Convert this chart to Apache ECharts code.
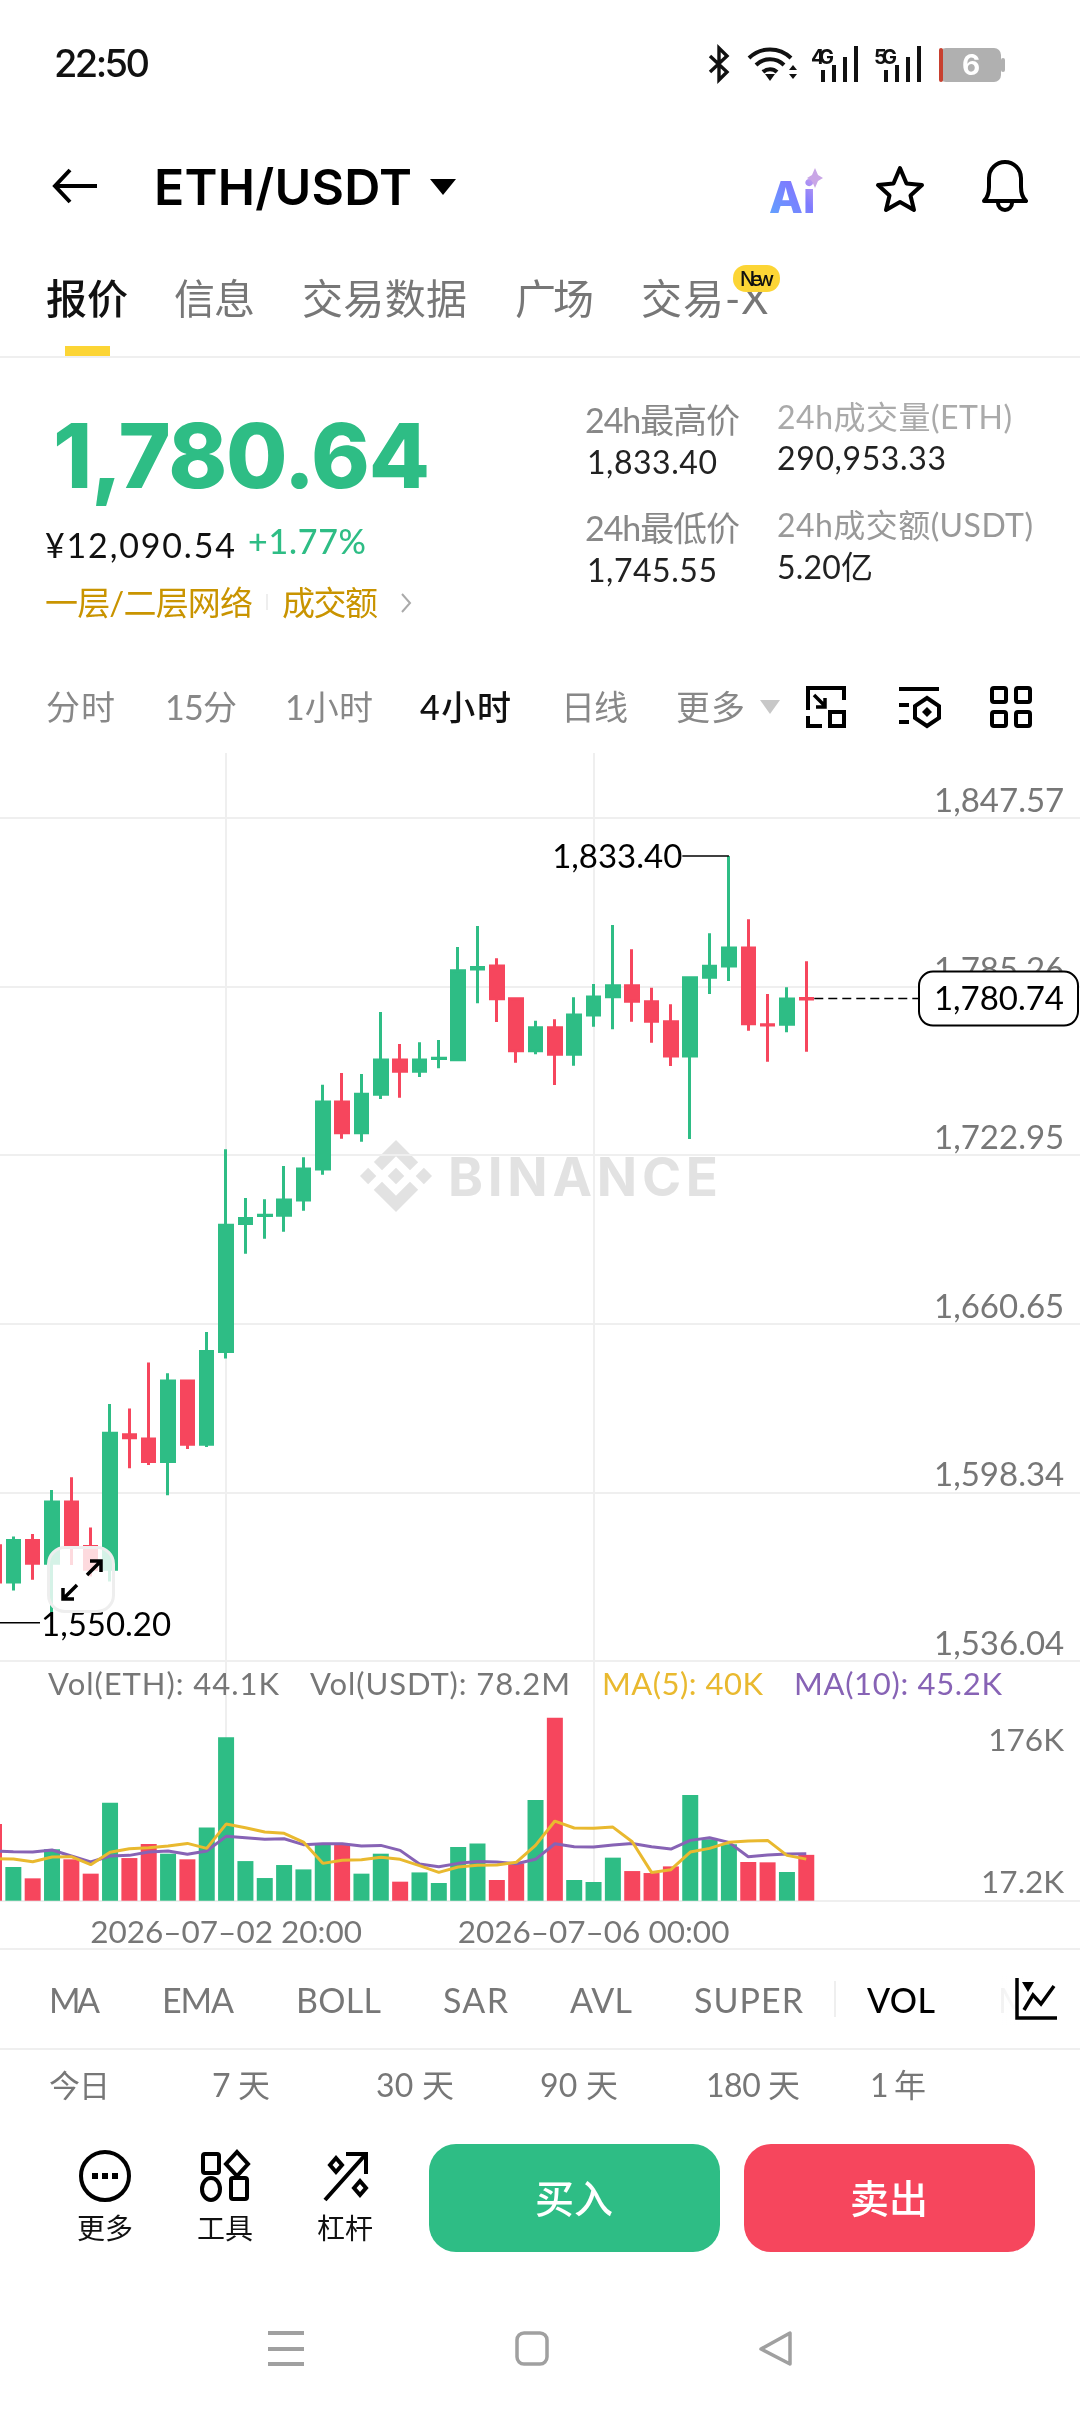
<!DOCTYPE html>
<html><head><meta charset="utf-8">
<script src="https://cdn.jsdelivr.net/npm/echarts@6/dist/echarts.min.js"></script>
<style>
html,body{margin:0;padding:0;background:#fff;width:1080px;height:2414px;overflow:hidden}
body{position:relative;font-family:Lato,"Noto Sans CJK SC",sans-serif}
#chart{position:absolute;left:-20px;top:0;width:1120px;height:2414px;z-index:1}
#chrome{position:absolute;left:0;top:0;width:1080px;height:2414px;z-index:2}
#wm{position:absolute;left:0;top:0;z-index:0}
.t{position:absolute;white-space:nowrap}
.r{position:absolute}
svg{position:absolute;overflow:visible}
</style></head><body>
<div id="wm"></div><div id="chart"></div><div id="chrome"></div>
<script>
// ---------- data ----------
const categories=["2026-06-30 20:00","2026-07-01 00:00","2026-07-01 04:00","2026-07-01 08:00","2026-07-01 12:00","2026-07-01 16:00","2026-07-01 20:00","2026-07-02 00:00","2026-07-02 04:00","2026-07-02 08:00","2026-07-02 12:00","2026-07-02 16:00","2026-07-02 20:00","2026-07-03 00:00","2026-07-03 04:00","2026-07-03 08:00","2026-07-03 12:00","2026-07-03 16:00","2026-07-03 20:00","2026-07-04 00:00","2026-07-04 04:00","2026-07-04 08:00","2026-07-04 12:00","2026-07-04 16:00","2026-07-04 20:00","2026-07-05 00:00","2026-07-05 04:00","2026-07-05 08:00","2026-07-05 12:00","2026-07-05 16:00","2026-07-05 20:00","2026-07-06 00:00","2026-07-06 04:00","2026-07-06 08:00","2026-07-06 12:00","2026-07-06 16:00","2026-07-06 20:00","2026-07-07 00:00","2026-07-07 04:00","2026-07-07 08:00","2026-07-07 12:00","2026-07-07 16:00","2026-07-07 20:00"];
const candleOpen=[1578.57,1565.27,1580.52,1572.17,1594.82,1578.31,1569.96,1619.6,1618.09,1609.70,1639.51,1616.13,1650.33,1697.7,1700.65,1700.71,1706.36,1717.81,1742.56,1731.22,1745.40,1758.07,1753.90,1758.65,1758.18,1791.7,1792.79,1780.72,1761.51,1770.00,1760.18,1774.70,1781.45,1785.52,1779.61,1772.22,1759.55,1788.62,1792.79,1799.44,1771.05,1771.26,1780.74];
const candleClose=[1565.27,1580.52,1572.17,1594.82,1578.82,1569.96,1620.19,1618.5,1609.70,1639.51,1616.13,1650.33,1697.02,1699.5,1700.75,1706.36,1717.81,1742.56,1731.22,1745.40,1758.07,1753.90,1758.07,1758.75,1791.06,1792.2,1780.72,1761.51,1770.00,1760.18,1774.70,1781.34,1785.52,1779.76,1772.37,1759.55,1788.47,1792.68,1799.44,1771.48,1770.95,1780.61,1780.60];
const candleLow=[1550.20,1562.06,1566.01,1553.08,1571.55,1567.23,1565.38,1607.26,1608.48,1597.29,1614.39,1615.13,1647.75,1686.53,1692.07,1694.65,1702.41,1715.71,1729.01,1727.90,1743.67,1744.15,1751.79,1755.01,1758.18,1779.02,1772.11,1757.08,1760.18,1748.84,1755.97,1770.37,1769.41,1772.22,1764.46,1755.86,1728.89,1782.45,1787.25,1768.90,1757.45,1768.31,1761.14];
const candleHigh=[1582.64,1582.00,1583.00,1599.25,1603.94,1585.32,1631.02,1629.28,1646.27,1642.35,1639.88,1657.61,1725.09,1707.10,1706.62,1718.92,1722.13,1748.95,1753.27,1752.90,1775.80,1763.98,1764.61,1765.46,1799.81,1807.57,1795.64,1780.72,1772.59,1773.11,1781.23,1786.15,1807.94,1798.96,1784.78,1778.65,1788.84,1804.87,1833.40,1810.04,1782.45,1784.93,1794.53];
const volumes=[73.7,32.4,21.5,49.4,39.8,26.0,94.2,41.0,54.5,45.2,39.8,70.5,157.1,38.1,21.8,34.3,30.1,53.5,53.5,26.0,45.2,18.3,27.2,17.0,51.6,55.1,19.9,35.9,96.8,176.0,19.9,18.0,41.4,28.5,26.6,33.0,101.6,59.0,54.2,37.2,36.9,27.6,44.1];
const ma5=[40.4,40.1,37.5,42.0,42.3,34.6,46.5,50.0,51.0,52.6,55.1,50.3,73.7,70.2,66.0,64.8,56.4,35.9,38.8,39.4,41.7,39.8,33.7,27.2,32.4,34.0,34.3,36.9,53.2,76.6,69.9,69.6,70.8,56.7,27.2,29.8,46.8,50.3,56.1,57.4,58.0,43.6,40.0];
const ma10=[47.8,47.1,46.8,48.7,43.0,37.2,43.0,43.6,46.8,47.8,44.6,47.8,61.9,60.6,59.0,59.6,53.9,54.8,54.8,52.6,53.2,48.4,35.3,32.7,35.9,37.8,37.2,35.6,39.8,54.8,51.9,51.6,53.5,55.1,51.9,49.7,58.0,60.6,56.1,42.3,43.9,44.9,45.2];
const priceTicks=[1536.04,1598.34,1660.65,1722.95,1785.26,1847.57];
const volumeTicks=[17.2];
const volumeTopLabel=176;
const timeLabels=["2026-07-02 20:00","2026-07-06 00:00"];
const highPrice=1833.40, lowPrice=1550.20, lastPrice=1780.74;
// ---------- style ----------
const GREEN='#2EBD85',RED='#F6465D',GRID='#EFEFEF',AXIS='#777777';
const FONT='Lato',FS=31.5,FS_PRICE=33;
const OFFSET=20; // the canvas starts left of the window so the first candle can be cut off
const SLOTS=57; // blank slots keep the right-hand part of the time axis empty
const axisCats=categories.concat(new Array(SLOTS-categories.length).fill(''));
const grid=[{left:4.33,width:1102.38,top:753,height:908},{left:4.33,width:1102.38,top:1661,height:239.7}];
const keepTime=(i,v)=>timeLabels.includes(v);
const chart=echarts.init(document.getElementById('chart'),null,{renderer:'canvas'});
chart.setOption({
 animation:false,backgroundColor:'transparent',grid,
 xAxis:[
  {type:'category',gridIndex:0,data:axisCats,boundaryGap:true,axisLine:{show:false},axisTick:{show:false,alignWithLabel:true},axisLabel:{show:false},
   splitLine:{show:true,alignWithLabel:true,interval:keepTime,lineStyle:{color:GRID,width:2}}},
  {type:'category',gridIndex:1,data:axisCats,boundaryGap:true,axisLine:{show:true,lineStyle:{color:GRID,width:2}},axisTick:{show:false,alignWithLabel:true},
   axisLabel:{show:true,interval:keepTime,margin:16,color:AXIS,fontFamily:FONT,fontSize:FS,formatter:v=>v.replace(/-/g,'\u2013')},
   splitLine:{show:true,alignWithLabel:true,interval:keepTime,lineStyle:{color:GRID,width:2}}}
 ],
 yAxis:[
  {type:'value',gridIndex:0,position:'right',min:1536.04,max:1871.47,scale:true,axisLine:{show:false},
   axisTick:{show:false,customValues:priceTicks},
   axisLabel:{inside:true,margin:22.5,color:AXIS,fontFamily:FONT,fontSize:FS_PRICE,verticalAlign:'bottom',customValues:priceTicks,
     formatter:v=>v.toLocaleString('en-US',{minimumFractionDigits:2,maximumFractionDigits:2})},
   splitLine:{show:true,lineStyle:{color:GRID,width:2}}},
  {type:'value',gridIndex:1,position:'right',min:0,max:230.5,axisLine:{show:false},
   axisTick:{show:false,customValues:volumeTicks},
   axisLabel:{inside:true,margin:22.5,color:AXIS,fontFamily:FONT,fontSize:FS,customValues:volumeTicks,formatter:v=>v+'K'},
   splitLine:{show:false}}
 ],
 series:[
  {type:'candlestick',name:'ETH/USDT',xAxisIndex:0,yAxisIndex:0,barWidth:13,z:3,
   data:categories.map((c,i)=>[candleOpen[i],candleClose[i],candleLow[i],candleHigh[i]]),
   itemStyle:{color:GREEN,color0:RED,borderColor:GREEN,borderColor0:RED,borderWidth:3}},
  {type:'bar',name:'Vol(ETH)',xAxisIndex:1,yAxisIndex:1,barWidth:16,z:2,
   data:volumes.map((v,i)=>({value:v,itemStyle:{color:candleClose[i]>=candleOpen[i]?GREEN:RED}}))},
  {type:'line',name:'MA(5)',xAxisIndex:1,yAxisIndex:1,data:ma5,symbol:'none',z:5,lineStyle:{color:'#E9B92F',width:3}},
  {type:'line',name:'MA(10)',xAxisIndex:1,yAxisIndex:1,data:ma10,symbol:'none',z:4,lineStyle:{color:'#8763B5',width:3}}
 ]
});
const px=i=>chart.convertToPixel({xAxisIndex:0},i);
const py=v=>chart.convertToPixel({yAxisIndex:0},v);
const vy=v=>chart.convertToPixel({yAxisIndex:1},v);
const hi=candleHigh.indexOf(highPrice),lo=candleLow.indexOf(lowPrice),last=categories.length-1;
const lineG=(x1,y1,x2,y2,extra)=>({type:'line',z:20,shape:{x1,y1,x2,y2},style:Object.assign({stroke:'#000',lineWidth:1.5},extra||{})});
const textG=(text,x,y,align,color,size)=>({type:'text',z:22,x,y,style:{text,align,verticalAlign:'middle',fill:color,fontFamily:FONT,fontSize:size||FS_PRICE}});
const fmt=v=>v.toLocaleString('en-US',{minimumFractionDigits:2,maximumFractionDigits:2});
const tagX=919+OFFSET,labelX=1064+OFFSET;
chart.setOption({graphic:[
 lineG(px(hi),py(highPrice),px(hi)-46.6,py(highPrice)),
 textG(fmt(highPrice),px(hi)-46.6,py(highPrice)+1,'right','#000'),
 lineG(px(lo),py(lowPrice),px(lo)+46,py(lowPrice)),
 textG(fmt(lowPrice),px(lo)+47,py(lowPrice)+3,'left','#000'),
 lineG(px(last)+8,py(lastPrice),tagX,py(lastPrice),{lineDash:[9,5]}),
 {type:'rect',z:21,shape:{x:tagX,y:py(lastPrice)-27,width:159,height:54,r:14},style:{fill:'#fff',stroke:'#000',lineWidth:2}},
 textG(fmt(lastPrice),labelX,py(lastPrice)+1,'right','#000'),
 textG(volumeTopLabel+'K',labelX,vy(volumeTopLabel)+23,'right',AXIS,FS)
]});
// ---------- watermark ----------
document.getElementById('wm').innerHTML=
 '<svg style="left:360px;top:1140px" width="72" height="72" viewBox="0 0 126.61 126.61"><path fill="#E2E2E2" d="M38.73 53.2l24.59-24.58 24.6 24.6 14.3-14.31L63.32 0 24.42 38.9zM0 63.31l14.3-14.31 14.31 14.31L14.3 77.61zM38.73 73.41l24.59 24.59 24.6-24.6 14.31 14.29-38.9 38.91-38.91-38.88-.02-.02zM98 63.31l14.3-14.31 14.31 14.3-14.31 14.32zM77.83 63.3L63.32 48.78 52.59 59.51l-1.24 1.23-2.54 2.54 14.51 14.5 14.51-14.47z"/></svg>';
// ---------- app chrome ----------
const host=document.getElementById('chrome'),wmHost=document.getElementById('wm');
function T(text,x0,x1,yc,size,color,weight,parent,family){
 const s=document.createElement('span');s.className='t';s.textContent=text;
 s.style.cssText=`left:${x0}px;top:${yc-size/2}px;font-size:${size}px;line-height:${size}px;color:${color};font-weight:${weight||400}`;
 if(family)s.style.fontFamily=family;
 (parent||host).appendChild(s);
 if(x1){const w=s.getBoundingClientRect().width;const n=text.length;s.style.letterSpacing=((x1-x0-w)/(n-1))+'px';}
 return s;
}
function R(x,y,w,h,bg,rad){const d=document.createElement('div');d.className='r';d.style.cssText=`left:${x}px;top:${y}px;width:${w}px;height:${h}px;background:${bg};border-radius:${rad||0}px`;host.appendChild(d);return d;}
function S(x,y,w,h,vb,inner){host.insertAdjacentHTML('beforeend',`<svg style="left:${x}px;top:${y}px" width="${w}" height="${h}" viewBox="${vb}">${inner}</svg>`);}
const INTER='Inter,"Noto Sans CJK SC"';
T('BINANCE',448,718,1177,53,'#E2E2E2',700,wmHost,INTER);
// status bar
T('22:50',54,150,63,38,'#111',500,null,INTER);
S(707,46,24,36,'0 0 24 36','<path d="M3 10l17 16-8 8V2l8 8L3 26" fill="none" stroke="#111" stroke-width="3.4"/>');
S(747,46,50,36,'0 0 50 36','<path d="M2 12a30 30 0 0 1 42 0M9 19a20 20 0 0 1 28 0M16 26a10 10 0 0 1 14 0" fill="none" stroke="#111" stroke-width="4"/><path d="M18 28h10l-5 7z" fill="#111"/><path d="M42 24l4-5 4 5zM42 28l4 5 4-5z" fill="#111"/>');
const sig=(x,lab)=>{T(lab,x,x+23,57,20,'#111',700,null,INTER);S(x+10,46,38,36,'0 0 38 36','<rect x="0" y="24" width="4" height="12" fill="#111"/><rect x="11" y="19" width="4" height="17" fill="#111"/><rect x="22" y="11" width="4" height="25" fill="#111"/><rect x="33" y="0" width="4" height="36" fill="#111"/>');};
sig(811,'4G');sig(874,'5G');
R(939,48,62,34,'#B0B0B0',7);R(939,48,4,34,'#C8402F',2);R(1001,58,4,14,'#B0B0B0',2);
T('6',962,null,65,28,'#fff',700,null,INTER);
// title bar
S(52,168,46,36,'0 0 46 36','<path d="M18 2L3 18l15 16M3 18h42" fill="none" stroke="#000" stroke-width="4"/>');
T('ETH/USDT',154,412,187,50,'#000',600,null,INTER);
S(430,179,26,16,'0 0 26 16','<path d="M0 0h26L13 16z" fill="#000"/>');
S(768,168,56,46,'0 0 56 46','<defs><linearGradient id="ai" x1="0" x2="1" y1="1" y2="0"><stop offset="0" stop-color="#5CA8FF"/><stop offset=".6" stop-color="#7E7BFF"/><stop offset="1" stop-color="#D9A6E8"/></linearGradient></defs><text x="1" y="45" font-family="Inter" font-weight="800" font-size="44" fill="url(#ai)">Ai</text><path d="M47 0l3 7 5 3-5 3-3 7-3-7-5-3 5-3z" fill="#C9A6E6"/>');
S(875,165,50,47,'0 0 50 47','<path d="M25 3l6.5 15.5L47 20 35.5 30.5 39 45 25 37 11 45l3.500-14.500L3 20l15.500-1.500z" fill="none" stroke="#000" stroke-width="4" stroke-linejoin="round"/>');
S(981,160,48,53,'0 0 48 53','<path d="M3 41c4-4 5-8 5-14V18a16 16 0 0 1 32 0v9c0 6 1 10 5 14z" fill="none" stroke="#000" stroke-width="4" stroke-linejoin="round"/><path d="M17 43a7 7 0 0 0 14 0" fill="none" stroke="#000" stroke-width="4"/>');
// tabs
T('报价',46,128,298,41,'#111',500);
T('信息',174,255,298,41,'#777');
T('交易数据',302,467,298,41,'#777');
T('广场',515,594,298,41,'#777');
T('交易-X',641,768,298,41,'#777');
R(733,265,47,27,'#FCD535',13);
T('New',740,774,279,20,'#111',500,null,INTER);
R(65,346,45,10,'#FCD535');
R(0,356,1080,2,'#EFEFEF');
// price block
T('1,780.64',53,430,455,89,GREEN,800,null,INTER);
T('¥12,090.54',45,235,545,34,'#111');
T('+1.77%',248,366,541,34,GREEN,500);
T('一层/二层网络',45,253,602,33,'#C99400');
R(266,594,2,16,'#EEE');
T('成交额',282,378,602,33,'#C99400');
S(400,592,12,22,'0 0 12 22','<path d="M2 2l8 9-8 9" fill="none" stroke="#AAA" stroke-width="2"/>');
T('24h最高价',585,740,420,34,'#888');
T('1,833.40',587,717,462,32,'#222');
T('24h成交量(ETH)',777,1012,417,32,'#AAA');
T('290,953.33',777,946,458,32,'#222');
T('24h最低价',585,740,528,34,'#888');
T('1,745.55',587,717,570,32,'#222');
T('24h成交额(USDT)',777,1033,525,32,'#999');
T('5.20亿',777,873,567,32,'#222');
// intervals
T('分时',46,115,707,34,'#888');
T('15分',165,237,707,34,'#888');
T('1小时',285,373,707,34,'#888');
T('4小时',420,511,707,34,'#111',500);
T('日线',561,628,707,34,'#888');
T('更多',676,745,707,34,'#888');
S(760,700,20,14,'0 0 20 14','<path d="M0 0h20L10 14z" fill="#C8C8C8"/>');
S(806,686,40,42,'0 0 40 42','<path d="M2 24V2h36v12M2 30v10h14M24 26h14v14H24z" fill="none" stroke="#000" stroke-width="4"/><path d="M8 9l11 11M19 12v9h-9" fill="none" stroke="#000" stroke-width="3.500"/>');
S(897,686,44,42,'0 0 44 42','<path d="M2 3h40M2 19h10M2 36h10" fill="none" stroke="#000" stroke-width="4"/><path d="M30 12l12 8v12l-12 8-12-8V20z" fill="none" stroke="#000" stroke-width="4"/><path d="M30 21l5 5-5 5-5-5z" fill="#000"/>');
S(990,686,42,42,'0 0 42 42','<g fill="none" stroke="#000" stroke-width="4"><rect x="2" y="2" width="14" height="14" rx="2"/><rect x="26" y="2" width="14" height="14" rx="2"/><rect x="2" y="26" width="14" height="14" rx="2"/><rect x="26" y="26" width="14" height="14" rx="2"/></g>');
// volume legend
T('Vol(ETH): 44.1K',48,279,1683,31,'#777');
T('Vol(USDT): 78.2M',310,570,1683,31,'#777');
T('MA(5): 40K',602,763,1683,31,'#E9B92F');
T('MA(10): 45.2K',794,1002,1683,31,'#8763B5');
// expand button over the chart
const ex=R(47,1546,68,67,'rgba(255,255,255,.80)',18);ex.style.border='3px solid #EEE';ex.style.boxSizing='border-box';
S(60,1558,44,44,'0 0 44 44','<path d="M3 41l14-14M3 30v11h11M41 3L27 17M30 3h11v11" fill="none" stroke="#000" stroke-width="3.500"/>');
// indicators
R(0,1948,1080,2,'#EFEFEF');
T('MA',49,100,2000,34,'#777');
T('EMA',162,234,2000,34,'#777');
T('BOLL',296,381,2000,34,'#777');
T('SAR',443,508,2000,34,'#777');
T('AVL',570,632,2000,34,'#777');
T('SUPER',694,803,2000,34,'#777');
R(834,1981,2,36,'#EFEFEF');
T('VOL',867,935,2000,34,'#000',500);
T('M',998,null,2000,34,'#DDD');
R(1000,1975,80,50,'linear-gradient(90deg,rgba(255,255,255,.6),#fff 30%)');
S(1015,1978,42,42,'0 0 42 42','<path d="M2 0v40h40" fill="none" stroke="#000" stroke-width="3.500"/><path d="M9 32l9-15 8 9 13-18" fill="none" stroke="#000" stroke-width="3.500"/><path d="M7 4h12l-6 10z" fill="#000"/>');
R(0,2048,1080,2,'#EFEFEF');
// ranges
T('今日',49,110,2085,31,'#777');
T('7 天',212,270,2085,32,'#777');
T('30 天',376,454,2085,32,'#777');
T('90 天',540,618,2085,32,'#777');
T('180 天',706,800,2085,32,'#777');
T('1 年',870,926,2085,32,'#777');
// bottom actions
S(79,2150,52,52,'0 0 52 52','<circle cx="26" cy="26" r="24" fill="none" stroke="#000" stroke-width="4"/><rect x="13" y="23" width="6" height="6" fill="#000"/><rect x="23" y="23" width="6" height="6" fill="#000"/><rect x="33" y="23" width="6" height="6" fill="#000"/>');
S(200,2150,50,52,'0 0 50 52','<g fill="none" stroke="#000" stroke-width="4"><rect x="3" y="4" width="16" height="19" rx="2"/><path d="M37 2l11 12-11 12-11-12z"/><ellipse cx="11" cy="39" rx="9" ry="11"/><rect x="31" y="28" width="16" height="21" rx="2"/></g>');
S(322,2150,48,52,'0 0 48 52','<g fill="none" stroke="#000" stroke-width="4"><path d="M3 50L44 4M24 4h20v20"/><path d="M8 15l6-7 6 7-6 7z"/><path d="M32 38l6-7 6 7-6 7z"/></g>');
T('更多',77,133,2228,28,'#111');
T('工具',197,253,2228,28,'#111');
T('杠杆',317,373,2228,28,'#111');
R(429,2144,291,108,GREEN,27);
R(744,2144,291,108,RED,27);
T('买入',535,613,2198,39,'#fff',500);
T('卖出',850,928,2198,39,'#fff',500);
// nav bar
S(268,2331,36,35,'0 0 36 35','<path d="M0 2h36M0 18h36M0 33h36" stroke="#A0A0A0" stroke-width="4"/>');
S(515,2331,34,35,'0 0 34 35','<rect x="2" y="2" width="30" height="31" rx="7" fill="none" stroke="#A0A0A0" stroke-width="3.500"/>');
S(758,2331,34,35,'0 0 34 35','<path d="M32 2v31L3 18z" fill="none" stroke="#A0A0A0" stroke-width="3.500" stroke-linejoin="round"/>');
</script>
</body></html>
